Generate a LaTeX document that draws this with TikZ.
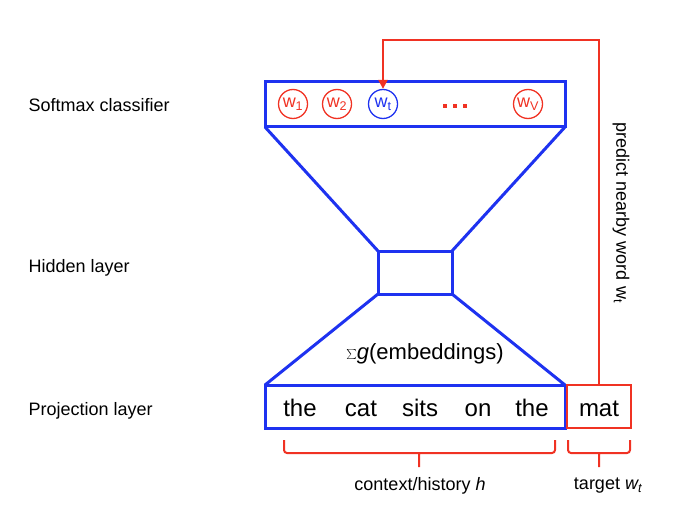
\documentclass[tikz,border=0pt]{standalone}
\usepackage{fontspec}
\setmainfont{Liberation Sans}
\usetikzlibrary{arrows.meta}
\definecolor{myred}{RGB}{240,50,35}
\definecolor{myblue}{RGB}{30,50,240}
\begin{document}
\begin{tikzpicture}[x=1pt,y=-1pt,
  bl/.style={draw=myblue,line width=3pt},
  rd/.style={draw=myred,line width=2.2pt},
  wc/.style={circle,draw=myred,line width=1.3pt,minimum size=29pt,inner sep=0pt,text=myred,font=\fontsize{18}{18}\selectfont},
  lab/.style={anchor=west,font=\fontsize{18}{18}\selectfont},
  wd/.style={anchor=base,font=\fontsize{24}{24}\selectfont}]
\useasboundingbox (0,0) rectangle (677,508);
\draw[bl] (265,82) rectangle (565,127);
\draw[bl] (265,127) -- (378,251) (565,127) -- (452,251);
\node[bl,draw,minimum width=74pt,minimum height=43pt,inner sep=0pt] (hid) at (415,272.5) {};
\draw[bl] (378,294) -- (265,385) (452,294) -- (565,385);
\node[bl,draw,minimum width=300pt,minimum height=43pt,inner sep=0pt] (proj) at (415,406.5) {};
\node[rd,draw,minimum width=64pt,minimum height=43pt,inner sep=0pt] (mat) at (599,406.5) {};
\node[wc] (w1) at (293,104) {w\textsubscript{1}};
\node[wc] (w2) at (337,104) {w\textsubscript{2}};
\node[wc,draw=myblue,text=myblue] (wt) at (383,104) {w\textsubscript{t}};
\node (dots) at (455,106) {};
\foreach \dx in {-10,0,10} \fill[fill=myred] ([xshift=\dx pt]dots.center) ++(-2.2,-2.2) rectangle ++(4.4,4.4);
\node[wc] (wv) at (528,104) {w\textsubscript{V}};
\coordinate (c1) at (599,40);
\coordinate (c2) at (383,40);
\draw[rd,-{Stealth[length=9pt,width=9pt,inset=0pt]}] (mat.north) -- (c1) -- (c2) -- (wt.north);
\node[lab] at (25,105) {Softmax classifier};
\node[lab] at (25,268) {Hidden layer};
\node[lab] at (25,411) {Projection layer};
\node[wd] at (300,416) {the};
\node[wd] at (361,416) {cat};
\node[wd] at (420,416) {sits};
\node[wd] at (478,416) {on};
\node[wd] at (532,416) {the};
\node[wd] at (599,416) {mat};
\node[font=\fontsize{22}{22}\selectfont] at (425,354) {$\textstyle\sum$\textit{g}(embeddings)};
\draw[rd,line width=2pt,rounded corners=3pt] (284,440) -- (284,453) -- (555,453) -- (555,440) (419,453) -- (419,467);
\draw[rd,line width=2pt,rounded corners=3pt] (568,440) -- (568,453) -- (630,453) -- (630,440) (599,453) -- (599,467);
\node[font=\fontsize{18}{18}\selectfont] at (420,486) {context/history \textit{h}};
\node[font=\fontsize{18}{18}\selectfont] at (608,486) {target \textit{w\textsubscript{t}}};
\node[rotate=-90,font=\fontsize{18}{18}\selectfont] at (621,213) {predict nearby word w\textsubscript{t}};
\end{tikzpicture}
\end{document}
